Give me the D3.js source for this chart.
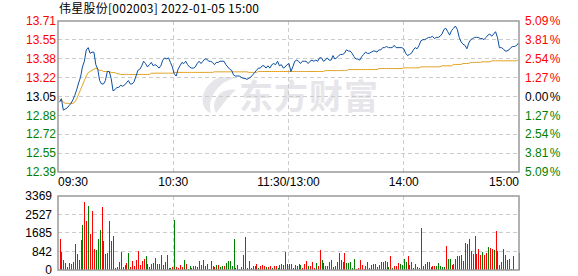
<!DOCTYPE html>
<html><head><meta charset="utf-8">
<script src="https://cdn.jsdelivr.net/npm/d3@7/dist/d3.min.js"></script>
<style>body{margin:0;background:#fff}svg{display:block}</style>
</head><body><svg id="c" width="578" height="276"></svg>
<script>
const title = "伟星股份[002003] 2022-01-05 15:00";
const preClose = 13.05;
const priceLabels = ["13.71","13.55","13.38","13.22","13.05","12.88","12.72","12.55","12.39"];
const pctLevels = [5.09,3.81,2.54,1.27,0,-1.27,-2.54,-3.81,-5.09];
const pctLabels = ["5.09","3.81","2.54","1.27","0.00","1.27","2.54","3.81","5.09"];
const timeLabels = ["09:30","10:30","11:30/13:00","14:00","15:00"];
const timeIndex = [0,60,120,180,240];
const volTicks = [0,842,1685,2527,3369];

const price = [
13.00,13.03,12.93,12.94,12.95,12.97,12.99,13.02,13.06,13.11,
13.17,13.22,13.31,13.36,13.46,13.48,13.43,13.44,13.44,13.33,
13.29,13.19,13.16,13.16,13.19,13.27,13.27,13.21,13.10,13.11,
13.13,13.13,13.15,13.14,13.15,13.17,13.19,13.16,13.16,13.18,
13.23,13.28,13.29,13.32,13.36,13.34,13.31,13.33,13.35,13.32,
13.33,13.32,13.30,13.32,13.37,13.39,13.38,13.39,13.35,13.31,
13.25,13.23,13.29,13.32,13.35,13.34,13.36,13.33,13.31,13.30,
13.30,13.31,13.34,13.36,13.34,13.36,13.38,13.38,13.36,13.36,
13.35,13.33,13.35,13.35,13.36,13.36,13.36,13.33,13.31,13.29,
13.28,13.24,13.23,13.23,13.23,13.22,13.21,13.21,13.20,13.21,
13.22,13.24,13.26,13.28,13.30,13.30,13.32,13.32,13.30,13.32,
13.30,13.33,13.34,13.33,13.36,13.32,13.33,13.30,13.31,13.33,
13.34,13.27,13.31,13.36,13.37,13.36,13.34,13.36,13.36,13.36,
13.34,13.36,13.37,13.36,13.37,13.36,13.39,13.39,13.36,13.37,
13.39,13.37,13.37,13.41,13.38,13.39,13.41,13.42,13.42,13.43,
13.46,13.45,13.45,13.43,13.40,13.38,13.38,13.37,13.40,13.42,
13.44,13.43,13.43,13.44,13.45,13.45,13.44,13.46,13.46,13.48,
13.48,13.49,13.48,13.48,13.48,13.50,13.48,13.48,13.48,13.48,
13.47,13.43,13.41,13.42,13.43,13.46,13.48,13.47,13.50,13.54,
13.55,13.55,13.56,13.57,13.57,13.58,13.56,13.57,13.57,13.58,
13.60,13.64,13.65,13.62,13.59,13.63,13.65,13.67,13.64,13.57,
13.53,13.51,13.50,13.47,13.52,13.55,13.56,13.57,13.57,13.57,
13.56,13.56,13.55,13.57,13.59,13.60,13.58,13.60,13.62,13.57,
13.48,13.48,13.47,13.45,13.45,13.46,13.48,13.49,13.49,13.50,
13.52];

const avgPrice = [
13.03,13.02,13.00,12.99,12.99,12.99,12.99,12.99,13.00,13.03,
13.07,13.11,13.15,13.19,13.23,13.26,13.27,13.28,13.29,13.30,
13.29,13.28,13.28,13.27,13.27,13.27,13.27,13.26,13.26,13.26,
13.25,13.25,13.244,13.244,13.244,13.244,13.244,13.244,13.244,13.244,
13.244,13.244,13.244,13.244,13.244,13.244,13.244,13.244,13.255,13.255,
13.255,13.255,13.255,13.255,13.255,13.255,13.255,13.255,13.255,13.255,
13.262,13.262,13.262,13.262,13.262,13.262,13.262,13.262,13.262,13.262,
13.262,13.262,13.262,13.262,13.262,13.262,13.262,13.262,13.262,13.262,
13.262,13.267,13.267,13.267,13.267,13.267,13.267,13.267,13.267,13.267,
13.267,13.267,13.267,13.267,13.267,13.267,13.267,13.267,13.267,13.262,
13.262,13.262,13.262,13.262,13.27,13.27,13.27,13.27,13.27,13.27,
13.27,13.27,13.27,13.27,13.27,13.27,13.27,13.27,13.27,13.27,
13.27,13.27,13.27,13.27,13.27,13.27,13.27,13.27,13.27,13.27,
13.27,13.27,13.27,13.27,13.27,13.27,13.27,13.27,13.27,13.278,
13.278,13.278,13.278,13.278,13.278,13.278,13.278,13.278,13.278,13.278,
13.278,13.287,13.287,13.287,13.287,13.287,13.287,13.287,13.287,13.287,
13.287,13.287,13.287,13.287,13.287,13.287,13.287,13.296,13.296,13.296,
13.296,13.296,13.296,13.296,13.296,13.296,13.296,13.296,13.296,13.296,
13.302,13.302,13.302,13.302,13.302,13.302,13.302,13.302,13.302,13.311,
13.311,13.311,13.311,13.311,13.311,13.311,13.311,13.311,13.311,13.311,
13.32,13.32,13.32,13.32,13.32,13.32,13.332,13.332,13.332,13.332,
13.332,13.341,13.341,13.341,13.341,13.35,13.35,13.35,13.35,13.35,
13.35,13.355,13.355,13.355,13.355,13.355,13.364,13.364,13.364,13.364,
13.364,13.364,13.364,13.364,13.364,13.364,13.364,13.364,13.364,13.364,
13.373];

const volume = [
1412,805,455,319,152,319,273,364,1184,729,
455,1366,2049,3112,2231,2914,1639,2687,956,911,
1412,1822,2869,1321,729,774,2231,1321,1548,106,
150,364,820,152,228,319,774,152,410,182,
455,865,228,410,501,638,273,152,273,319,
546,273,273,683,228,364,683,91,91,120,
2277,137,106,228,152,455,273,46,182,106,
182,182,152,410,228,455,182,273,46,410,
182,137,228,228,152,182,182,319,410,410,
200,1412,91,228,46,137,683,1503,91,410,
91,182,182,273,106,182,228,182,137,137,
182,91,182,182,91,228,273,228,820,273,
273,273,106,228,182,273,228,91,273,410,
182,182,364,91,319,197,911,455,319,182,
182,364,455,137,182,364,774,455,364,774,
319,319,364,91,501,46,91,455,228,46,
182,364,91,228,273,273,137,228,364,364,
410,364,137,638,91,182,182,319,273,228,
501,364,638,228,364,91,273,150,100,1913,
182,273,364,364,137,182,182,182,319,182,
137,150,1093,501,501,228,273,501,638,638,
683,410,1230,1184,1412,865,729,1548,729,956,
683,820,683,774,1047,1002,956,911,1776,865,
228,364,956,683,455,501,46,638,0,0,
774];

const volUp = [
1,0,1,1,1,1,1,1,1,1,
1,1,0,1,1,0,1,1,1,0,
0,0,1,1,1,1,0,0,1,1,
0,1,0,1,1,1,0,1,1,1,
1,1,1,1,1,0,0,1,1,0,
0,1,1,1,0,1,0,0,0,1,
0,1,1,1,1,0,1,0,0,1,
0,0,0,1,1,0,1,0,0,0,
1,1,0,1,0,0,1,0,0,0,
0,0,1,1,0,1,0,0,1,1,
1,1,1,1,0,1,1,1,0,1,
1,0,1,1,0,1,0,1,1,0,
1,1,1,1,1,1,0,1,1,1,
0,1,1,1,0,1,1,0,0,1,
1,1,1,0,1,1,1,1,1,1,
0,0,0,0,0,1,1,1,1,1,
1,1,1,1,1,0,1,0,1,1,
1,1,0,1,0,1,1,1,0,0,
0,0,1,1,1,0,1,0,1,1,
1,1,1,1,0,1,1,0,0,0,
0,0,1,0,0,1,1,1,0,1,
0,1,0,1,0,1,1,1,1,1,
1,0,1,1,0,1,1,0,1,1,
0,0,0,1,1,1,1,1,1,1,
1];

const RED = "#ff0000", GREEN = "#008000", BLUE = "#0b4e9e", GOLD = "#e0a020";
const svg = d3.select("#c");
const L = 58, R = 519, PT = 21, PB = 172, VT = 196, VB = 270;
const numFont = "'Liberation Sans', Arial, sans-serif";

const x = d3.scaleLinear().domain([0, 240]).range([59.5, 518.5]);
const yP = d3.scaleLinear().domain([preClose * (1 - 0.0509), preClose * (1 + 0.0509)]).range([PB, PT]);
const yV = d3.scaleLinear().domain([0, 3369]).range([VB, VT]);
const xGrid = d3.scaleLinear().domain([0, 240]).range([L, R]);

// watermark
const wm = svg.append("g").attr("fill", "#e6e6ea");
wm.append("path").attr("d", "M214,80 C206,86 201,95 203,104 C204,108 207,112 211,113 C208,104 212,92 222,84 C228,80 234,78 238,78 C230,77 221,76 214,80 Z M222,92 C214,98 212,106 216,113 C221,108 226,98 236,90 C231,89 226,90 222,92 Z");
wm.append("text").attr("x", 239).attr("y", 109).attr("font-family", "'Noto Sans CJK SC'")
  .attr("font-weight", "bold").attr("font-size", 34).attr("letter-spacing", 1).text("东方财富");

// grids
function grid(top, bottom, levels) {
  const g = svg.append("g").attr("stroke", "#cccccc").attr("stroke-dasharray", "4,3").attr("stroke-width", 1).attr("shape-rendering", "crispEdges");
  levels.forEach(yy => g.append("line").attr("x1", L).attr("x2", R).attr("y1", yy).attr("y2", yy));
  timeIndex.slice(1, 4).forEach(t => g.append("line").attr("x1", xGrid(t)).attr("x2", xGrid(t)).attr("y1", top).attr("y2", bottom));
}
const priceLevels = pctLevels.map(p => yP(preClose * (1 + p / 100)));
grid(PT, PB, priceLevels.slice(1, 8));
grid(VT, VB, volTicks.slice(1, 4).map(v => yV(v)));

// volume bars
svg.append("g").attr("shape-rendering", "crispEdges").selectAll("rect").data(volume).join("rect")
  .attr("x", (d, i) => Math.round(x(i)) - 0.5).attr("width", 1)
  .attr("y", d => yV(d)).attr("height", d => VB - yV(d))
  .attr("fill", (d, i) => volUp[i] ? RED : GREEN);

// lines
const line = d3.line().x((d, i) => x(i)).y(d => yP(d));
svg.append("path").datum(avgPrice).attr("d", line).attr("fill", "none").attr("stroke", GOLD).attr("stroke-width", 1);
svg.append("path").datum(price).attr("d", line).attr("fill", "none").attr("stroke", BLUE).attr("stroke-width", 1);

// frames
[[PT, PB], [VT, VB]].forEach(([t, b]) => svg.append("rect").attr("x", L).attr("y", t).attr("width", R - L).attr("height", b - t)
  .attr("fill", "none").attr("stroke", "#999").attr("stroke-width", 1.5));

// left price labels
const colorFor = p => p > 0 ? RED : (p < 0 ? GREEN : "#000");
svg.append("g").selectAll("text").data(priceLabels).join("text")
  .attr("x", 56).attr("y", (d, i) => priceLevels[i]).attr("dy", "0.35em").attr("text-anchor", "end")
  .attr("font-family", numFont).attr("font-size", 12).attr("fill", (d, i) => colorFor(pctLevels[i])).text(d => d);
// right pct labels
const rt = svg.append("g").selectAll("text").data(pctLabels).join("text")
  .attr("x", 525).attr("y", (d, i) => priceLevels[i]).attr("dy", "0.35em")
  .attr("font-family", numFont).attr("font-size", 12).attr("fill", (d, i) => colorFor(pctLevels[i]));
rt.append("tspan").text(d => d);
rt.append("tspan").attr("dx", 1.5).text("%");

// time labels
svg.append("g").selectAll("text").data(timeLabels).join("text")
  .attr("x", (d, i) => i === 0 ? L : (i === 4 ? R : xGrid(timeIndex[i])))
  .attr("y", 186).attr("text-anchor", (d, i) => i === 0 ? "start" : (i === 4 ? "end" : "middle"))
  .attr("font-family", numFont).attr("font-size", 12).attr("fill", "#000").text(d => d);

// volume labels
svg.append("g").selectAll("text").data(volTicks).join("text")
  .attr("x", 52).attr("y", d => yV(d)).attr("dy", "0.35em").attr("text-anchor", "end")
  .attr("font-family", numFont).attr("font-size", 12).attr("fill", "#000").text(d => d);

// title
svg.append("text").attr("x", 59).attr("y", 13).attr("font-family", "'Noto Sans CJK SC', sans-serif")
  .attr("font-size", 12).attr("letter-spacing", 0.25).attr("fill", "#000").text(title);
</script>
</body></html>
